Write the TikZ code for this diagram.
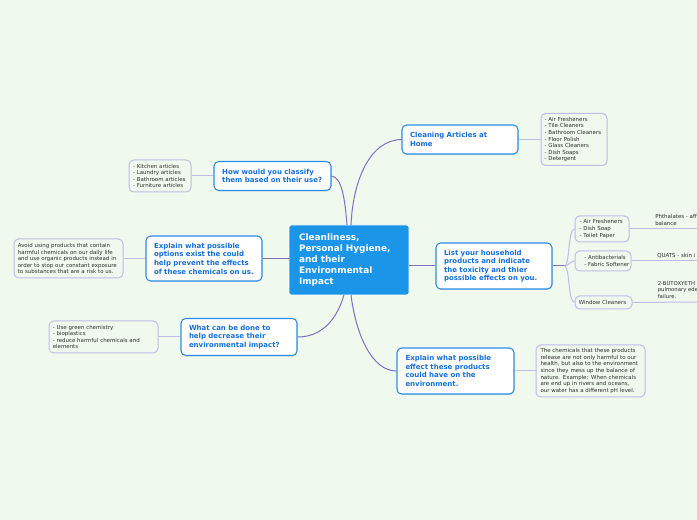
\documentclass[tikz,border=0pt]{standalone}
\usepackage{fontspec}
\setmainfont{DejaVu Sans}
\usetikzlibrary{shadows}
\definecolor{bgmap}{HTML}{EFF9EE}
\definecolor{mainblue}{HTML}{1B95E8}
\definecolor{topicblue}{HTML}{1470DC}
\definecolor{topicline}{HTML}{2A8CEA}
\definecolor{branchline}{HTML}{7F70C4}
\definecolor{leafline}{HTML}{BDBDE6}
\definecolor{leaftext}{HTML}{2E2E2E}
\begin{document}
\begin{tikzpicture}[
        x=0.75pt,
        y=-0.75pt,
        font=\fontsize{4.1pt}{4.9pt}\selectfont
    ]
    \tikzset{
        mainnode/.style = {rectangle, rounded corners=2pt, fill=mainblue, draw=white, line width=0.4pt, align=left, text=white, inner sep=0pt, font=\fontsize{6.7pt}{8.25pt}\selectfont\bfseries},
        topicnode/.style = {rectangle, rounded corners=3.5pt, fill=white, draw=topicline, line width=0.8pt, align=left, text=topicblue, inner sep=0pt, drop shadow={opacity=0.18, shadow xshift=0.4pt, shadow yshift=-0.6pt}, font=\fontsize{5.25pt}{6.45pt}\selectfont\bfseries},
        leafnode/.style = {rectangle, rounded corners=3.5pt, fill=bgmap, draw=leafline, line width=0.75pt, align=left, text=leaftext, inner sep=0pt},
        plaintext/.style = {anchor=north west, align=left, text=leaftext, inner sep=0pt},
        edgeb/.style = {-, branchline, line width=0.75pt},
        edgel/.style = {-, leafline, line width=0.75pt},
    }
    \fill[bgmap] (0,0) rectangle (697,520);
    \useasboundingbox (0,0) rectangle (697,520);
    \clip (0,0) rectangle (697,520);
    % leaf and topic edges go first
    \coordinate (cf) at (565,266);
    \coordinate (e1) at (697,229);
    \coordinate (e2) at (697,261);
    \coordinate (e3) at (697,302);
    \coordinate (mt1) at (351,225);
    \coordinate (mt2) at (347,225);
    \coordinate (mb1) at (344,295);
    \coordinate (mb2) at (351,295);
    %
    \node[mainnode, minimum width=90pt, minimum height=52.5pt, text width=75pt] at (349,260) (main) {Cleanliness,\\Personal Hygiene,\\and their\\Environmental\\Impact};
    %
    \node[topicnode, minimum width=87pt, minimum height=21.75pt, text width=75pt] at (460,139.5) (clean) {Cleaning Articles at\\Home};
    \node[topicnode, minimum width=87.75pt, minimum height=21.75pt, text width=76.5pt] at (272.5,176) (classify) {\hspace*{0.5pt}How would you classify\\\hspace*{0.5pt}them based on their use?};
    \node[topicnode, minimum width=87pt, minimum height=33.75pt, text width=75pt] at (204,258.5) (prevent) {Explain what possible\\options exist the could\\help prevent the effects\\of these chemicals on us.};
    \node[topicnode, minimum width=87pt, minimum height=27.75pt, text width=75pt] at (239,337) (decrease) {What can be done to\\help decrease their\\environmental impact?};
    \node[topicnode, minimum width=87pt, minimum height=34.5pt, text width=75pt] at (494,266) (toxicity) {List your household\\products and indicate\\the toxicity and thier\\possible effects on you.};
    \node[topicnode, minimum width=87.75pt, minimum height=34.5pt, text width=75pt] at (455.5,371) (effect) {Explain what possible\\effect these products\\could have on the\\environment.};
    %
    \node[leafnode, minimum width=49.5pt, minimum height=39pt, text width=44pt] at (574,139.5) (lclean) {- Air Fresheners\\- Tile Cleaners\\- Bathroom Cleaners\\- Floor Polish\\- Glass Cleaners\\- Dish Soaps\\- Detergent};
    \node[leafnode, minimum width=46.5pt, minimum height=24pt, text width=40.5pt] at (160,176) (lclassify) {- Kitchen articles\\- Laundry articles\\- Bathroom articles\\- Furniture articles};
    \node[leafnode, minimum width=81.75pt, minimum height=29.25pt, text width=76pt] at (68.5,258.5) (lprevent) {Avoid using products that contain\\harmful chemicals on our daily life\\and use organic products instead in\\order to stop our constant exposure\\to substances that are a risk to us.};
    \node[leafnode, minimum width=81.75pt, minimum height=24pt, text width=76pt] at (103.5,337) (ldecrease) {- Use green chemistry\\- bioplastics\\- reduce harmful chemicals and\\elements};
    \node[leafnode, minimum width=81.75pt, minimum height=39pt, text width=75pt] at (590.5,371) (leffect) {The chemicals that these products\\release are not only harmful to our\\health, but also to the environment\\since they mess up the balance of\\nature. Example: When chemicals\\are end up in rivers and oceans,\\our water has a different pH level.};
    \node[leafnode, minimum width=40.5pt, minimum height=19.5pt, text width=33.5pt] at (602,229) (air) {- Air Fresheners\\- Dish Soap\\- Toilet Paper};
    \node[leafnode, minimum width=42pt, minimum height=15pt, text width=40pt] at (603,261) (anti) {\hspace*{6pt}- Antibacterials\\\hspace*{6pt}- Fabric Softener};
    \node[leafnode, minimum width=42.75pt, minimum height=9.75pt, text width=37pt] at (603.5,302.5) (window) {Window Cleaners};
    %
    \node[plaintext] at (655,214.5) (tair) {Phthalates - aff\\balance};
    \node[plaintext] at (657,253) (tanti) {QUATS - skin i};
    \node[plaintext, font=\fontsize{4pt}{4.9pt}\selectfont] at (657.5,281) (twindow) {2-BUTOXYETH\\pulmonary ede\\failure.};
    %
    \draw[edgeb] (mt1) .. controls (353,180) and (370,140) .. (clean.west);
    \draw[edgeb] (mt2) .. controls (345,200) and (342,177) .. (classify.east);
    \draw[edgeb] (main.west |- prevent.east) -- (prevent.east);
    \draw[edgeb] (mb1) .. controls (336,322) and (320,337) .. (decrease.east);
    \draw[edgeb] (main.east |- toxicity.west) -- (toxicity.west);
    \draw[edgeb] (mb2) .. controls (356,335) and (372,371) .. (effect.west);
    %
    \draw[edgel] (lclean.west) -- (clean.east);
    \draw[edgel] (lclassify.east) -- (classify.west);
    \draw[edgel] (lprevent.east) -- (prevent.west);
    \draw[edgel] (ldecrease.east) -- (decrease.west);
    \draw[edgel] (leffect.west) -- (effect.east);
    %
    \draw[edgeb] (toxicity.east) -- (cf);
    \draw[edgel] (cf) .. controls (570,262) and (568,229) .. (air.west);
    \draw[edgel] (cf) .. controls (569,265) and (571,261) .. (anti.west);
    \draw[edgel] (cf) .. controls (570,270) and (568,302) .. (window.west);
    \draw[edgel] (air.east) -- (e1);
    \draw[edgel] (anti.east) -- (e2);
    \draw[edgel] (window.east) -- (e3);
    \end{tikzpicture}
\end{document}
